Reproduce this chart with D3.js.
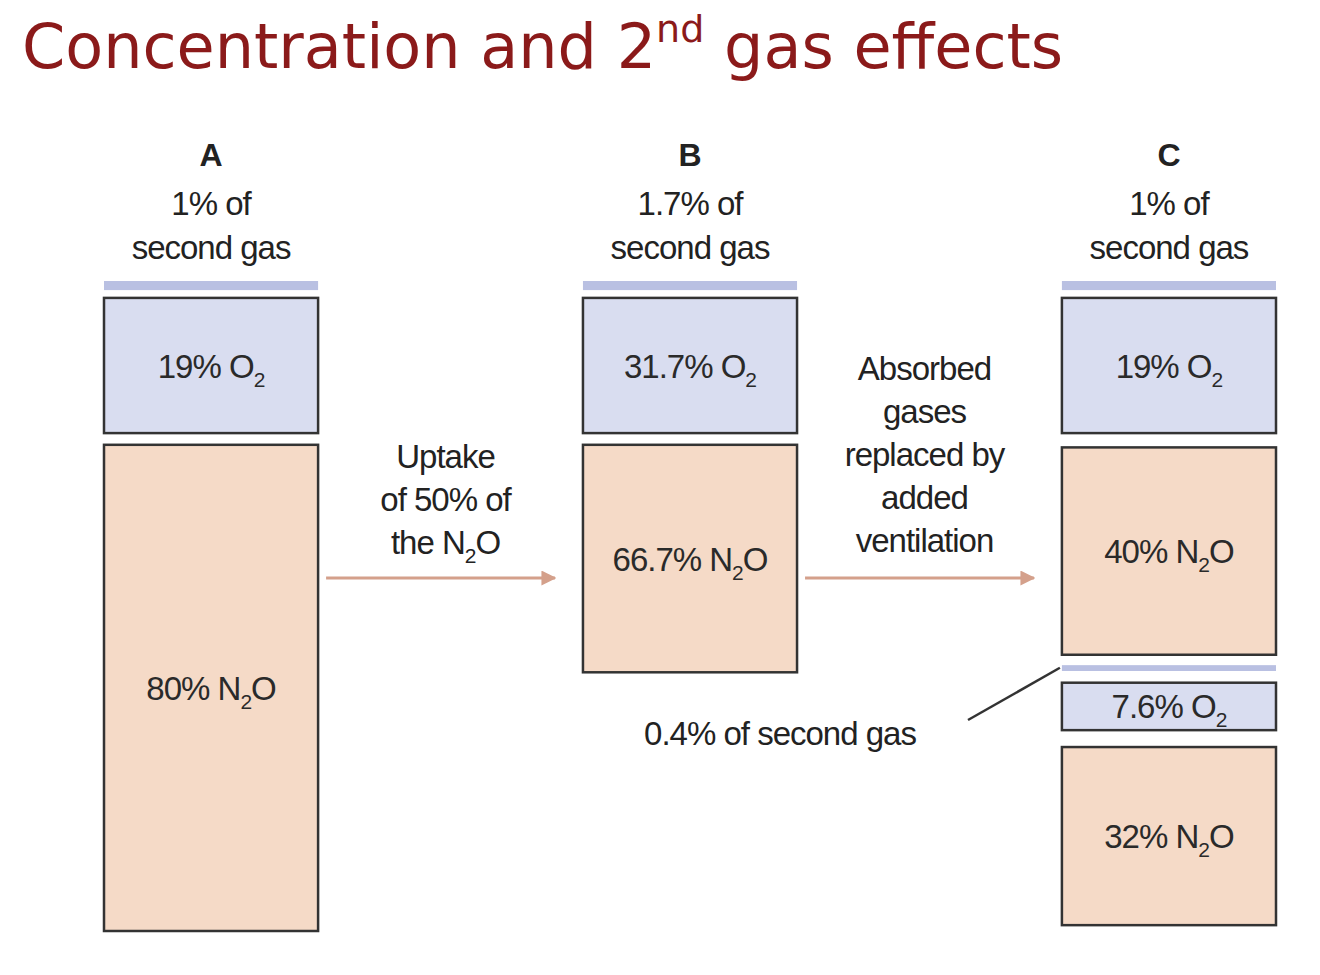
<!DOCTYPE html>
<html><head><meta charset="utf-8">
<script src="https://cdn.jsdelivr.net/npm/d3@7"></script>
<style>body{margin:0;background:#fff}</style></head>
<body><svg id="c" width="1320" height="975"></svg>
<script>
const columns = ["A","B","C"];
const headers = [["1% of","second gas"],["1.7% of","second gas"],["1% of","second gas"]];
const segments = [
 {col:"A",kind:"gas",y0:0,y1:1.4,label:null},
 {col:"A",kind:"o2",y0:2.6,y1:23.4,label:[["19% O",0],["2",1]]},
 {col:"A",kind:"n2o",y0:25.2,y1:100,label:[["80% N",0],["2",1],["O",0]]},
 {col:"B",kind:"gas",y0:0,y1:1.4,label:null},
 {col:"B",kind:"o2",y0:2.6,y1:23.4,label:[["31.7% O",0],["2",1]]},
 {col:"B",kind:"n2o",y0:25.2,y1:60.2,label:[["66.7% N",0],["2",1],["O",0]]},
 {col:"C",kind:"gas",y0:0,y1:1.4,label:null},
 {col:"C",kind:"o2",y0:2.6,y1:23.4,label:[["19% O",0],["2",1]]},
 {col:"C",kind:"n2o",y0:25.6,y1:57.5,label:[["40% N",0],["2",1],["O",0]]},
 {col:"C",kind:"gas",y0:59.1,y1:60.0,label:null},
 {col:"C",kind:"o2",y0:61.8,y1:69.1,label:[["7.6% O",0],["2",1]]},
 {col:"C",kind:"n2o",y0:71.7,y1:99.1,label:[["32% N",0],["2",1],["O",0]]}
];
const arrowTexts = [
 {from:"A",lines:[[["Uptake",0]],[["of 50% of",0]],[["the N",0],["2",1],["O",0]]],ty:468},
 {from:"B",lines:[[["Absorbed",0]],[["gases",0]],[["replaced by",0]],[["added",0]],[["ventilation",0]]],ty:380}
];
const fills = {gas:"#b9c0e2",o2:"#d9ddf0",n2o:"#f5dac7"};
const svg = d3.select("#c");
const x = d3.scaleBand().domain(columns).range([104,1276]).paddingInner(0.553);
const y = d3.scaleLinear().domain([0,100]).range([281,931]);
const F = "'Liberation Sans', Arial, sans-serif";

svg.append("text").attr("x",22).attr("y",68).attr("fill","#8b1a1a")
 .attr("font-family","'DejaVu Sans', Verdana, sans-serif").attr("font-size",62)
 .call(t=>{t.append("tspan").text("Concentration and 2");
 t.append("tspan").attr("font-size",38).attr("dy",-26).text("nd");
 t.append("tspan").attr("dy",26).text(" gas effects");});

function label(t,parts){
 let prevSub=false;
 parts.forEach(([txt,sub])=>{const ts=t.append("tspan").text(txt);
  if(sub){ts.attr("font-size",21).attr("dy",9);} else if(prevSub){ts.attr("dy",-9);} prevSub=sub;});
}
columns.forEach((c,i)=>{
 const cx = x(c)+x.bandwidth()/2;
 svg.append("text").attr("x",cx).attr("y",166).attr("text-anchor","middle").attr("font-family",F)
  .attr("font-weight","bold").attr("font-size",32).attr("fill","#222").text(c);
 headers[i].forEach((h,j)=>svg.append("text").attr("x",cx).attr("y",215+j*44).attr("text-anchor","middle")
  .attr("font-family",F).attr("font-size",33).attr("fill","#222").attr("letter-spacing",-1).text(h));
});
segments.forEach(s=>{
 const r = svg.append("rect").attr("x",x(s.col)).attr("y",y(s.y0)).attr("width",x.bandwidth())
  .attr("height",y(s.y1)-y(s.y0)).attr("fill",fills[s.kind]);
 if(s.kind!=="gas") r.attr("stroke","#333").attr("stroke-width",2.5);
 if(s.label){
  const t = svg.append("text").attr("x",x(s.col)+x.bandwidth()/2).attr("y",(y(s.y0)+y(s.y1))/2+12)
   .attr("text-anchor","middle").attr("font-family",F).attr("font-size",33).attr("fill","#2a2a2a").attr("letter-spacing",-1);
  label(t,s.label);
 }
});
const ay = 578;
svg.append("defs").append("marker").attr("id","ah").attr("viewBox","0 0 10 10").attr("refX",9).attr("refY",5)
 .attr("markerWidth",5).attr("markerHeight",5).attr("orient","auto")
 .append("path").attr("d","M0,0L10,5L0,10z").attr("fill","#d4a08b");
arrowTexts.forEach((a,i)=>{
 const x0 = x(a.from)+x.bandwidth()+8, x1 = x(columns[i+1])-28;
 svg.append("line").attr("x1",x0).attr("x2",x1).attr("y1",ay).attr("y2",ay).attr("stroke","#d4a08b")
  .attr("stroke-width",3).attr("marker-end","url(#ah)");
 a.lines.forEach((ln,j)=>{
  const t = svg.append("text").attr("x",(x0+x1)/2+5).attr("y",a.ty+j*43).attr("text-anchor","middle")
   .attr("font-family",F).attr("font-size",33).attr("fill","#222").attr("letter-spacing",-1);
  label(t,ln);
 });
});
svg.append("text").attr("x",780).attr("y",745).attr("text-anchor","middle").attr("font-family",F)
 .attr("font-size",33).attr("fill","#222").attr("letter-spacing",-1).text("0.4% of second gas");
svg.append("line").attr("x1",968).attr("y1",720).attr("x2",x("C")-2).attr("y2",y(59.5)).attr("stroke","#333").attr("stroke-width",2.5);
</script></body></html>
